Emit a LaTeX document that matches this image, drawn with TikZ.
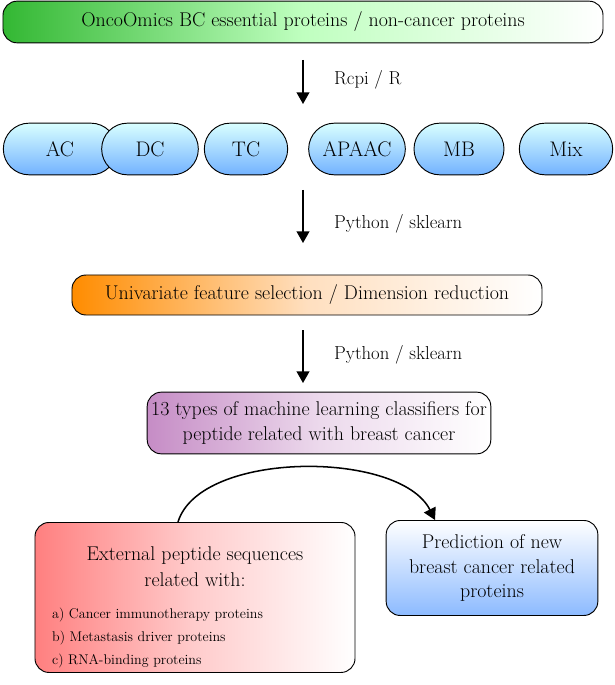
\documentclass[tikz,border=0pt]{standalone}
\usetikzlibrary{positioning,arrows.meta}
\begin{document}
\begin{tikzpicture}[x=0.03cm,y=-0.03cm]
        \tikzstyle{box} = [draw, thick, rounded corners=12pt, align=center, font=\fontsize{17}{21}\selectfont]
        \tikzstyle{pill} = [draw, thick, rounded corners=22pt, minimum height=1.55cm, font=\fontsize{18}{22}\selectfont, bottom color=cyan!45!blue!55, top color=cyan!15!white]
        \tikzstyle{flow} = [-{Triangle[length=10pt,width=11pt]}, line width=1.3pt]
        \tikzstyle{lbl} = [right, font=\fontsize{16}{20}\selectfont]

        \useasboundingbox (0,0) rectangle (614,685);

		\node[box, minimum width=18.0cm, minimum height=1.25cm, left color=green!65!black!80, right color=white, middle color=green!25!white] (top) at (303,22) {OncoOmics BC essential proteins / non-cancer proteins};

		\foreach \name/\x/\w in {AC/60/3.4, DC/150/2.9, TC/246/2.5, APAAC/357/2.9, MB/459/2.7, Mix/566/2.8}
			\node[pill, minimum width=\w cm] (\name) at (\x,149) {\name};

		\node[box, minimum width=14.1cm, minimum height=1.2cm, left color=orange!90!yellow, right color=white, middle color=orange!25!white] (sel) at (307,295) {Univariate feature selection / Dimension reduction};

		\node[box, minimum width=10.0cm, minimum height=1.85cm, left color=violet!45, right color=white, middle color=violet!15!white] (clf) at (319,423) {13 types of machine learning classifiers for\\peptide related with breast cancer};

		\node[box, minimum width=9.6cm, minimum height=4.5cm, left color=red!50, right color=white, middle color=red!20!white, anchor=north] (ext) at (195,522) {};
		\node[align=center, font=\fontsize{17}{22}\selectfont] (extt) at (195,567) {External peptide sequences\\related with:};
		\node[align=left, anchor=west, font=\fontsize{12}{20}\selectfont] (list) at (48,638) {a) Cancer immunotherapy proteins\\b) Metastasis driver proteins\\c) RNA-binding proteins};

		\node[box, minimum width=6.35cm, minimum height=2.85cm, bottom color=cyan!40!blue!45, top color=white, anchor=north] (pred) at (492,520) {Prediction of new\\breast cancer related\\proteins};

		\coordinate (a1) at (303,60);
		\coordinate (a2) at (303,104);
		\coordinate (b1) at (303,190);
		\coordinate (b2) at (303,243);
		\coordinate (c1) at (303,330);
		\coordinate (c2) at (303,383);
		\coordinate (e1) at (178,522);
		\coordinate (e2) at (435,520);
		\draw[flow] (a1) -- (a2);
		\draw[flow] (b1) -- (b2);
		\draw[flow] (c1) -- (c2);
		\node[lbl] at (330,80) {Rcpi / R};
		\node[lbl] at (330,224) {Python / sklearn};
		\node[lbl] at (330,355) {Python / sklearn};

		\draw[flow] (e1) .. controls (200,450) and (400,450) .. (e2);

    \end{tikzpicture}
\end{document}
